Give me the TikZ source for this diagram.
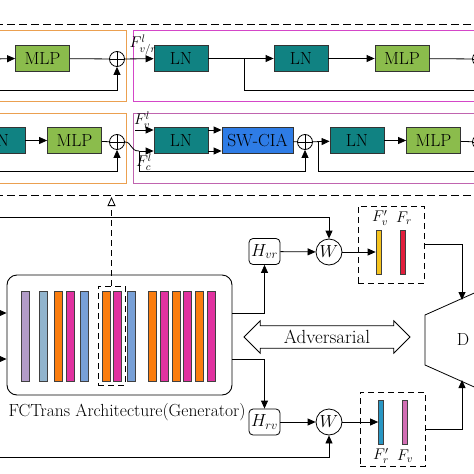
\RequirePackage{fix-cm}
\documentclass[tikz,border=0pt]{standalone}
\usepackage{amsmath}
\usepackage{fontspec}
\usetikzlibrary{arrows.meta,shapes.arrows,calc}

\definecolor{mlpgreen}{RGB}{139,188,76}
\definecolor{lnteal}{RGB}{16,130,130}
\definecolor{swblue}{RGB}{46,124,230}
\definecolor{boxorange}{RGB}{235,160,80}
\definecolor{boxpinkA}{RGB}{212,70,200}
\definecolor{boxpinkB}{RGB}{192,100,175}
\definecolor{barorange}{RGB}{250,125,15}
\definecolor{barmag}{RGB}{225,50,160}
\definecolor{barlav}{RGB}{178,156,200}
\definecolor{bargray}{RGB}{145,180,205}
\definecolor{barblue}{RGB}{120,160,215}
\definecolor{baryellow}{RGB}{245,195,30}
\definecolor{barred}{RGB}{225,30,60}
\definecolor{barteal}{RGB}{40,150,195}
\definecolor{barpink}{RGB}{210,110,180}

\begin{document}
\begin{tikzpicture}[x=1pt, y=-1pt, font=\fontsize{17.5}{20}\selectfont]
    % Define styles
    \tikzstyle{block} = [rectangle, draw=black!80, line width=0.8pt, minimum width=54pt, minimum height=26pt, inner sep=0pt]
    \tikzstyle{mlp} = [block, fill=mlpgreen]
    \tikzstyle{ln} = [block, fill=lnteal]
    \tikzstyle{swcia} = [block, fill=swblue, minimum width=71pt]
    \tikzstyle{plus} = [circle, draw, line width=0.8pt, minimum size=15pt, inner sep=0pt, path picture={\draw[line width=0.8pt] (path picture bounding box.north) -- (path picture bounding box.south) (path picture bounding box.west) -- (path picture bounding box.east);}]
    \tikzstyle{wire} = [line width=0.8pt]
    \tikzstyle{arrow} = [wire, -{Triangle[length=8pt,width=7pt]}]
    \tikzstyle{flabel} = [inner sep=1pt, font=\fontsize{15.5}{18}\selectfont]
    \tikzstyle{hbox} = [rectangle, draw, line width=0.8pt, rounded corners=4pt, minimum width=31pt, minimum height=26pt, inner sep=0pt]
    \tikzstyle{wnode} = [circle, draw, line width=0.8pt, minimum size=26pt, inner sep=0pt]
    \tikzstyle{featbar} = [rectangle, draw=black!75, line width=0.7pt, minimum width=8pt, minimum height=90pt, inner sep=0pt]
    \tikzstyle{thinbar} = [rectangle, draw=black!75, line width=0.7pt, minimum width=5pt, minimum height=44pt, inner sep=0pt]
    \tikzstyle{dashbox} = [rectangle, draw, line width=0.8pt, dash pattern=on 6pt off 4pt, inner sep=0pt]

    \useasboundingbox (0,0) rectangle (474,474);
    \clip (0,0) rectangle (474,474);

    % Block frames of the transformer stages
    \draw[wire, dash pattern=on 8pt off 4pt] (-5,24) -- (480,24);
    \draw[wire, dash pattern=on 8pt off 4pt] (-5,195) -- (480,195);
    \draw[line width=1pt, boxorange] (-5,30) rectangle (126,101);
    \draw[line width=1pt, boxpinkA] (133,30) rectangle (480,101);
    \draw[line width=1pt, boxorange] (-5,113) rectangle (126,183);
    \draw[line width=1pt, boxpinkB] (133,113) rectangle (480,183);

    % First row
    \node [mlp] (mlpA) at (42.5,58.5) {MLP};
    \node [plus] (plusA) at (117,59) {};
    \node [ln] (lnA) at (181,58.5) {LN};
    \node [ln] (lnB) at (301,58.5) {LN};
    \node [mlp] (mlpB) at (402,58.5) {MLP};
    \node [plus] (plusB) at (480,59) {};
    \node [flabel] (fvr) at (143,45) {$F^{l}_{v/r}$};
    \coordinate (inA) at (-5,59);
    \coordinate (skipA) at (-5,90);
    \coordinate (brA) at (244,58.5);

    \draw [arrow] (inA) -- (mlpA.west);
    \draw [wire] (mlpA) -- (plusA);
    \draw [arrow] (skipA) -| (plusA.south);
    \draw [arrow] (plusA) -- (lnA);
    \draw [arrow] (lnA) -- (lnB);
    \draw [arrow] (lnB) -- (mlpB);
    \draw [wire] (mlpB) -- (plusB);
    \draw [arrow] (brA) -- (brA |- 0,90) -| (plusB.south);

    % Second row
    \node [ln] (lnC) at (-2,140.5) {LN};
    \node [mlp] (mlpC) at (74.5,140.5) {MLP};
    \node [plus] (plusC) at (117,142) {};
    \node [ln] (lnD) at (181,140.5) {LN};
    \node [swcia] (swD) at (257.5,140.5) {SW-CIA};
    \node [plus] (plusD) at (305,142) {};
    \node [ln] (lnE) at (357,140.5) {LN};
    \node [mlp] (mlpE) at (433.5,140.5) {MLP};
    \node [plus] (plusE) at (480,142) {};
    \node [flabel] (fv) at (142,120) {$F^{l}_{v}$};
    \node [flabel] (fc) at (144,162) {$F^{l}_{c}$};
    \coordinate (skipC) at (-5,171);
    \coordinate (fvIn) at (135,130);
    \coordinate (brC) at (139,151);
    \coordinate (brD) at (318,142);

    \draw [arrow] (lnC) -- (mlpC);
    \draw [wire] (mlpC) -- (plusC);
    \draw [arrow] (skipC) -| (plusC.south);
    \draw [arrow] (fvIn) -- (fvIn -| lnD.west);
    \draw [wire] (plusC.east) .. controls (132,142) and (130,151) .. (brC);
    \draw [arrow] (brC) -- (brC -| lnD.west);
    \draw [arrow] (lnD.east |- fvIn) -- (swD.west |- fvIn);
    \draw [arrow] (lnD.east |- brC) -- (swD.west |- brC);
    \draw [wire] (swD) -- (plusD);
    \draw [arrow] (brC) -- (brC |- 0,171) -| (plusD.south);
    \draw [arrow] (plusD) -- (lnE);
    \draw [arrow] (lnE) -- (mlpE);
    \draw [wire] (mlpE) -- (plusE);
    \draw [arrow] (brD) -- (brD |- 0,171) -| (plusE.south);

    % Generator
    \node [draw, line width=0.9pt, rounded corners=10pt, minimum width=225pt, minimum height=120pt] (gen) at (119.5,335) {};
    \foreach \x/\c [count=\i] in {25/barlav, 43/bargray, 58.5/barorange, 70/barmag, 84/barblue, 106/barorange, 117/barmag, 131.5/barblue, 152.5/barorange, 164/barmag, 176/barorange, 187/barmag, 199.5/barorange, 211/barmag}
        \node [featbar, fill=\c] (g\i) at (\x,336) {};
    \node [dashbox, minimum width=27pt, minimum height=99pt] (sel) at (111.5,335.5) {};
    \node (genlabel) at (127,412) {FCTrans Architecture(Generator)};
    \coordinate (up) at (111.5,197);
    \draw [wire, dash pattern=on 6pt off 4pt, -{Triangle[open,length=9pt,width=8pt]}] (sel.north) -- (up);

    % Inputs and outputs of the generator
    \coordinate (inG1) at (-5,313);
    \coordinate (inG2) at (-5,359);
    \draw [arrow] (inG1) -- (inG1 -| gen.west);
    \draw [arrow] (inG2) -- (inG2 -| gen.west);

    % Upper branch
    \node [hbox] (hvr) at (264.5,251.5) {$H_{vr}$};
    \node [wnode] (wA) at (329,252) {$W$};
    \node [dashbox, minimum width=66pt, minimum height=77pt] (boxA) at (391,244.5) {};
    \node [thinbar, fill=baryellow] (fvp) at (378.5,252) {};
    \node [thinbar, fill=barred] (fr) at (402.5,252) {};
    \node [flabel] (fvplab) at (380,218) {$F'_{v}$};
    \node [flabel] (frlab) at (404,218) {$F_{r}$};
    \coordinate (topL) at (-5,217);

    \draw [arrow] (inG1 -| gen.east) -| (hvr.south);
    \draw [arrow] (topL) -| (wA.north);
    \draw [arrow] (hvr) -- (wA);
    \draw [arrow] (wA) -- (fvp.west);

    % Lower branch
    \node [hbox] (hrv) at (264.5,422) {$H_{rv}$};
    \node [wnode] (wB) at (329,422) {$W$};
    \node [dashbox, minimum width=65pt, minimum height=74pt] (boxB) at (392.5,429) {};
    \node [thinbar, fill=barteal] (frp) at (381,422) {};
    \node [thinbar, fill=barpink] (fvb) at (405,422) {};
    \node [flabel] (frplab) at (381,456) {$F'_{r}$};
    \node [flabel] (fvblab) at (405,456) {$F_{v}$};
    \coordinate (botL) at (-5,457);

    \draw [arrow] (inG2 -| gen.east) -| (hrv.north);
    \draw [arrow] (botL) -| (wB.south);
    \draw [arrow] (hrv) -- (wB);
    \draw [arrow] (wB) -- (frp.west);

    % Discriminator
    \draw [wire] (490,286) -- (425,315) -- (425,365) -- (490,394);
    \node (disc) at (463,340) {D};
    \coordinate (dTop) at (462,300);
    \coordinate (dBot) at (462,380);
    \draw [arrow] (boxA.east) -| (dTop);
    \draw [arrow] (boxB.east) -| (dBot);

    % Adversarial training
    \node [double arrow, draw, line width=0.8pt, minimum height=166pt, double arrow head extend=5pt, inner ysep=4pt, inner xsep=2pt, font=\fontsize{19}{21}\selectfont] (adv) at (327,337) {Adversarial};
\end{tikzpicture}
\end{document}
